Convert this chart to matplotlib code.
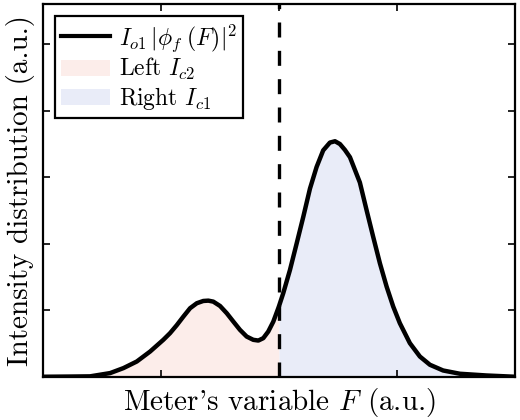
import matplotlib
matplotlib.use("Agg")
import matplotlib.pyplot as plt
from matplotlib.patches import Patch
from matplotlib.lines import Line2D

plt.rcParams['font.family'] = ['cmr10', 'DejaVu Serif']
plt.rcParams['mathtext.fontset'] = 'cm'
plt.rcParams['axes.unicode_minus'] = False

# curve (x in a.u., y in a.u.)
F = [0.0, 0.229, 0.398, 0.568, 0.681, 0.794, 0.907, 1.019, 1.076, 1.133,
     1.189, 1.246, 1.303, 1.358, 1.401, 1.443, 1.500, 1.557, 1.613, 1.669,
     1.726, 1.782, 1.825, 1.867, 1.909, 1.952, 1.994, 2.0, 2.036, 2.093,
     2.150, 2.206, 2.263, 2.319, 2.375, 2.432, 2.475, 2.517, 2.559, 2.602,
     2.686, 2.743, 2.799, 2.856, 2.913, 2.969, 3.025, 3.110, 3.195, 3.280,
     3.392, 3.534, 3.760, 4.0]
I = [0.0, 0.003, 0.006, 0.055, 0.130, 0.229, 0.379, 0.555, 0.655, 0.775,
     0.904, 1.030, 1.105, 1.139, 1.144, 1.129, 1.064, 0.955, 0.829, 0.705,
     0.604, 0.555, 0.544, 0.580, 0.679, 0.829, 1.030, 1.060, 1.255, 1.604,
     2.004, 2.403, 2.829, 3.153, 3.403, 3.520, 3.540, 3.498, 3.410, 3.300,
     2.920, 2.504, 2.103, 1.705, 1.354, 1.054, 0.805, 0.505, 0.304, 0.180,
     0.094, 0.045, 0.019, 0.0]
F_split = 2.0
x_ticks = [1, 2, 3]
y_ticks = [1, 2, 3, 4, 5]

pink = '#fcedea'
blue = '#e9ecf8'

fig = plt.figure(figsize=(5.2, 4.2), dpi=100)
ax = fig.add_axes([0.083, 0.103, 0.907, 0.887])

left = [f <= F_split for f in F]
right = [f >= F_split for f in F]
ax.fill_between(F, 0, I, where=left, color=pink, lw=0)
ax.fill_between(F, 0, I, where=right, color=blue, lw=0)
ax.axvline(F_split, color='k', lw=2.4, dashes=(4.5, 4))
ax.plot(F, I, color='k', lw=3.2, solid_joinstyle='round', solid_capstyle='butt')

ax.set_xlim(0, 4)
ax.set_ylim(0, 5.6)
ax.set_xticks(x_ticks)
ax.set_yticks(y_ticks)
ax.tick_params(direction='in', length=5, width=1.2, top=True, right=True,
               labelleft=False, labelbottom=False)
for s in ax.spines.values():
    s.set_linewidth(1.6)

ax.set_xlabel("Meter's variable $F$ (a.u.)", fontsize=21, labelpad=7)
ax.set_ylabel("Intensity distribution (a.u.)", fontsize=21, labelpad=6)

handles = [Line2D([], [], color='k', lw=3),
           Patch(facecolor=pink, edgecolor='none'),
           Patch(facecolor=blue, edgecolor='none')]
labels = [r'$I_{o1}\,|\phi_f\;(F)|^2$', r'Left $I_{c2}$', r'Right $I_{c1}$']
leg = ax.legend(handles, labels, loc='upper left', fontsize=17, fancybox=False,
                framealpha=1, edgecolor='k', handlelength=2.1,
                borderaxespad=0.5, labelspacing=0.12, handletextpad=0.35,
                borderpad=0.25)
leg.get_frame().set_linewidth(1.6)

fig.savefig('out.png', dpi=100)
